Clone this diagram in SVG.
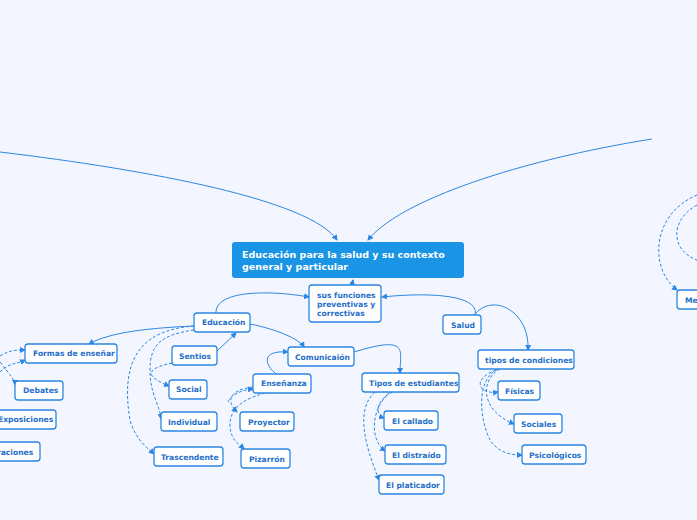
<svg xmlns="http://www.w3.org/2000/svg" width="697" height="520" viewBox="0 0 697 520">
<style>
.b{fill:#fff;stroke:#2b87e3;stroke-width:1.3}
.t{font-family:"DejaVu Sans",sans-serif;font-size:7.6px;font-weight:bold;fill:#1f6fc9}
.c{fill:none;stroke:#2b87e3;stroke-width:1}
.d{fill:none;stroke:#2b87e3;stroke-width:1;stroke-dasharray:3 2}
</style>
<defs><marker id="a" viewBox="0 0 6 6" refX="5" refY="3" markerWidth="6" markerHeight="6" orient="auto"><path d="M0,0L6,3L0,6z" fill="#2b87e3"/></marker></defs>
<rect width="697" height="520" fill="#f3f6fe"/>
<g id="connectors">
<path class="c" d="M0,152 C150,170 310,200 337,240" marker-end="url(#a)"/>
<path class="c" d="M652,139 C520,160 400,200 368,240" marker-end="url(#a)"/>
<path class="c" d="M352,285 L353,280" marker-end="url(#a)"/>
<path class="c" d="M216,313 C215,290 270,290 309,297" marker-end="url(#a)"/>
<path class="c" d="M475,315 C480,295 430,292 382,297" marker-end="url(#a)"/>
<path class="c" d="M194,326 C150,328 110,332 89,344" marker-end="url(#a)"/>
<path class="c" d="M250,324 C280,330 300,340 304,347" marker-end="url(#a)"/>
<path class="c" d="M216,352 L236,333" marker-end="url(#a)"/>
<path class="c" d="M354,352 C410,335 400,350 400,373" marker-end="url(#a)"/>
<path class="c" d="M276,374 C265,365 260,350 288,352" marker-end="url(#a)"/>
<path class="c" d="M472,318 C490,290 530,310 528,350" marker-end="url(#a)"/>
<path class="d" d="M0,356 C10,350 15,350 25,350" marker-end="url(#a)"/>
<path class="d" d="M0,372 C10,362 15,365 25,360" marker-end="url(#a)"/>
<path class="d" d="M0,362 C10,375 15,380 15,385" marker-end="url(#a)"/>
<path class="d" d="M194,330 C160,335 150,345 150,370 C150,395 160,405 161,419" marker-end="url(#a)"/>
<path class="d" d="M194,326 C140,330 120,360 130,420 C135,440 150,450 154,454" marker-end="url(#a)"/>
<path class="d" d="M172,363 C140,370 150,378 169,386" marker-end="url(#a)"/>
<path class="d" d="M253,387 C230,390 225,400 237,412" marker-end="url(#a)"/>
<path class="d" d="M265,393 C240,400 230,410 230,425 C230,440 240,445 244,449" marker-end="url(#a)"/>
<path class="d" d="M228,402 C230,396 240,390 253,389" marker-end="url(#a)"/>
<path class="d" d="M375,392 C355,410 365,445 379,480" marker-end="url(#a)"/>
<path class="d" d="M390,392 C370,410 370,440 385,451" marker-end="url(#a)"/>
<path class="d" d="M393,392 C375,400 375,415 384,418" marker-end="url(#a)"/>
<path class="d" d="M498,369 C475,380 480,420 490,440 C500,455 515,455 522,455" marker-end="url(#a)"/>
<path class="d" d="M500,369 C480,380 480,410 514,424" marker-end="url(#a)"/>
<path class="d" d="M496,370 C470,380 480,395 498,392" marker-end="url(#a)"/>
<path class="d" d="M697,195 C650,215 650,270 677,290" marker-end="url(#a)"/>
<path class="d" d="M697,205 C670,220 670,250 697,260"/>
</g>
<g id="main"><rect x="232" y="242" width="232" height="36" rx="3" fill="#1a95e6"/><text x="242" y="258" font-family="DejaVu Sans,sans-serif" font-size="9.5px" font-weight="bold" fill="#fff">Educación para la salud y su contexto</text><text x="242" y="270" font-family="DejaVu Sans,sans-serif" font-size="9.5px" font-weight="bold" fill="#fff">general y particular</text></g>
<g id="sus"><rect class="b" x="309" y="285" width="72" height="37" rx="3"/><text class="t" x="317" y="298">sus funciones</text><text class="t" x="317" y="307">preventivas y</text><text class="t" x="317" y="316">correctivas</text></g>
<g id="edu"><rect class="b" x="194" y="313" width="56" height="19" rx="3"/><text class="t" x="202" y="325">Educación</text></g>
<g id="formas"><rect class="b" x="25" y="344" width="92" height="19" rx="3"/><text class="t" x="33" y="356">Formas de enseñar</text></g>
<g id="debates"><rect class="b" x="15" y="381" width="48" height="19" rx="3"/><text class="t" x="23" y="393">Debates</text></g>
<g id="expo"><rect class="b" x="-10" y="410" width="66" height="19" rx="3"/><text class="t" x="-2" y="422">Exposiciones</text></g>
<g id="ilu"><rect class="b" x="-10" y="442" width="50" height="19" rx="3"/><text class="t" x="-3" y="455">raciones</text></g>
<g id="sentios"><rect class="b" x="172" y="346" width="45" height="19" rx="3"/><text class="t" x="179" y="359">Sentios</text></g>
<g id="social"><rect class="b" x="169" y="380" width="38" height="19" rx="3"/><text class="t" x="176" y="392">Social</text></g>
<g id="indiv"><rect class="b" x="161" y="412" width="56" height="19" rx="3"/><text class="t" x="168" y="425">Individual</text></g>
<g id="tras"><rect class="b" x="154" y="447" width="69" height="19" rx="3"/><text class="t" x="161" y="460">Trascendente</text></g>
<g id="comu"><rect class="b" x="288" y="347" width="66" height="19" rx="3"/><text class="t" x="295" y="360">Comunicaión</text></g>
<g id="ense"><rect class="b" x="253" y="374" width="58" height="19" rx="3"/><text class="t" x="261" y="386">Enseñanza</text></g>
<g id="proy"><rect class="b" x="240" y="412" width="54" height="19" rx="3"/><text class="t" x="248" y="425">Proyector</text></g>
<g id="piz"><rect class="b" x="241" y="449" width="49" height="19" rx="3"/><text class="t" x="249" y="462">Pizarrón</text></g>
<g id="tipos"><rect class="b" x="362" y="373" width="97" height="19" rx="3"/><text class="t" x="369" y="386">Tipos de estudiantes</text></g>
<g id="callado"><rect class="b" x="384" y="411" width="54" height="19" rx="3"/><text class="t" x="392" y="424">El callado</text></g>
<g id="distraido"><rect class="b" x="385" y="445" width="61" height="19" rx="3"/><text class="t" x="392" y="458">El distraído</text></g>
<g id="platicador"><rect class="b" x="379" y="475" width="65" height="19" rx="3"/><text class="t" x="386" y="488">El platicador</text></g>
<g id="salud"><rect class="b" x="443" y="315" width="38" height="19" rx="3"/><text class="t" x="451" y="328">Salud</text></g>
<g id="condic"><rect class="b" x="478" y="350" width="96" height="19" rx="3"/><text class="t" x="485" y="363">tipos de condiciones</text></g>
<g id="fisicas"><rect class="b" x="498" y="381" width="42" height="19" rx="3"/><text class="t" x="505" y="394">Físicas</text></g>
<g id="sociales"><rect class="b" x="514" y="414" width="48" height="19" rx="3"/><text class="t" x="521" y="427">Sociales</text></g>
<g id="psico"><rect class="b" x="522" y="445" width="64" height="19" rx="3"/><text class="t" x="529" y="458">Psicológicos</text></g>
<g id="me"><rect class="b" x="677" y="290" width="30" height="19" rx="3"/><text class="t" x="685" y="303">Me</text></g>
</svg>
